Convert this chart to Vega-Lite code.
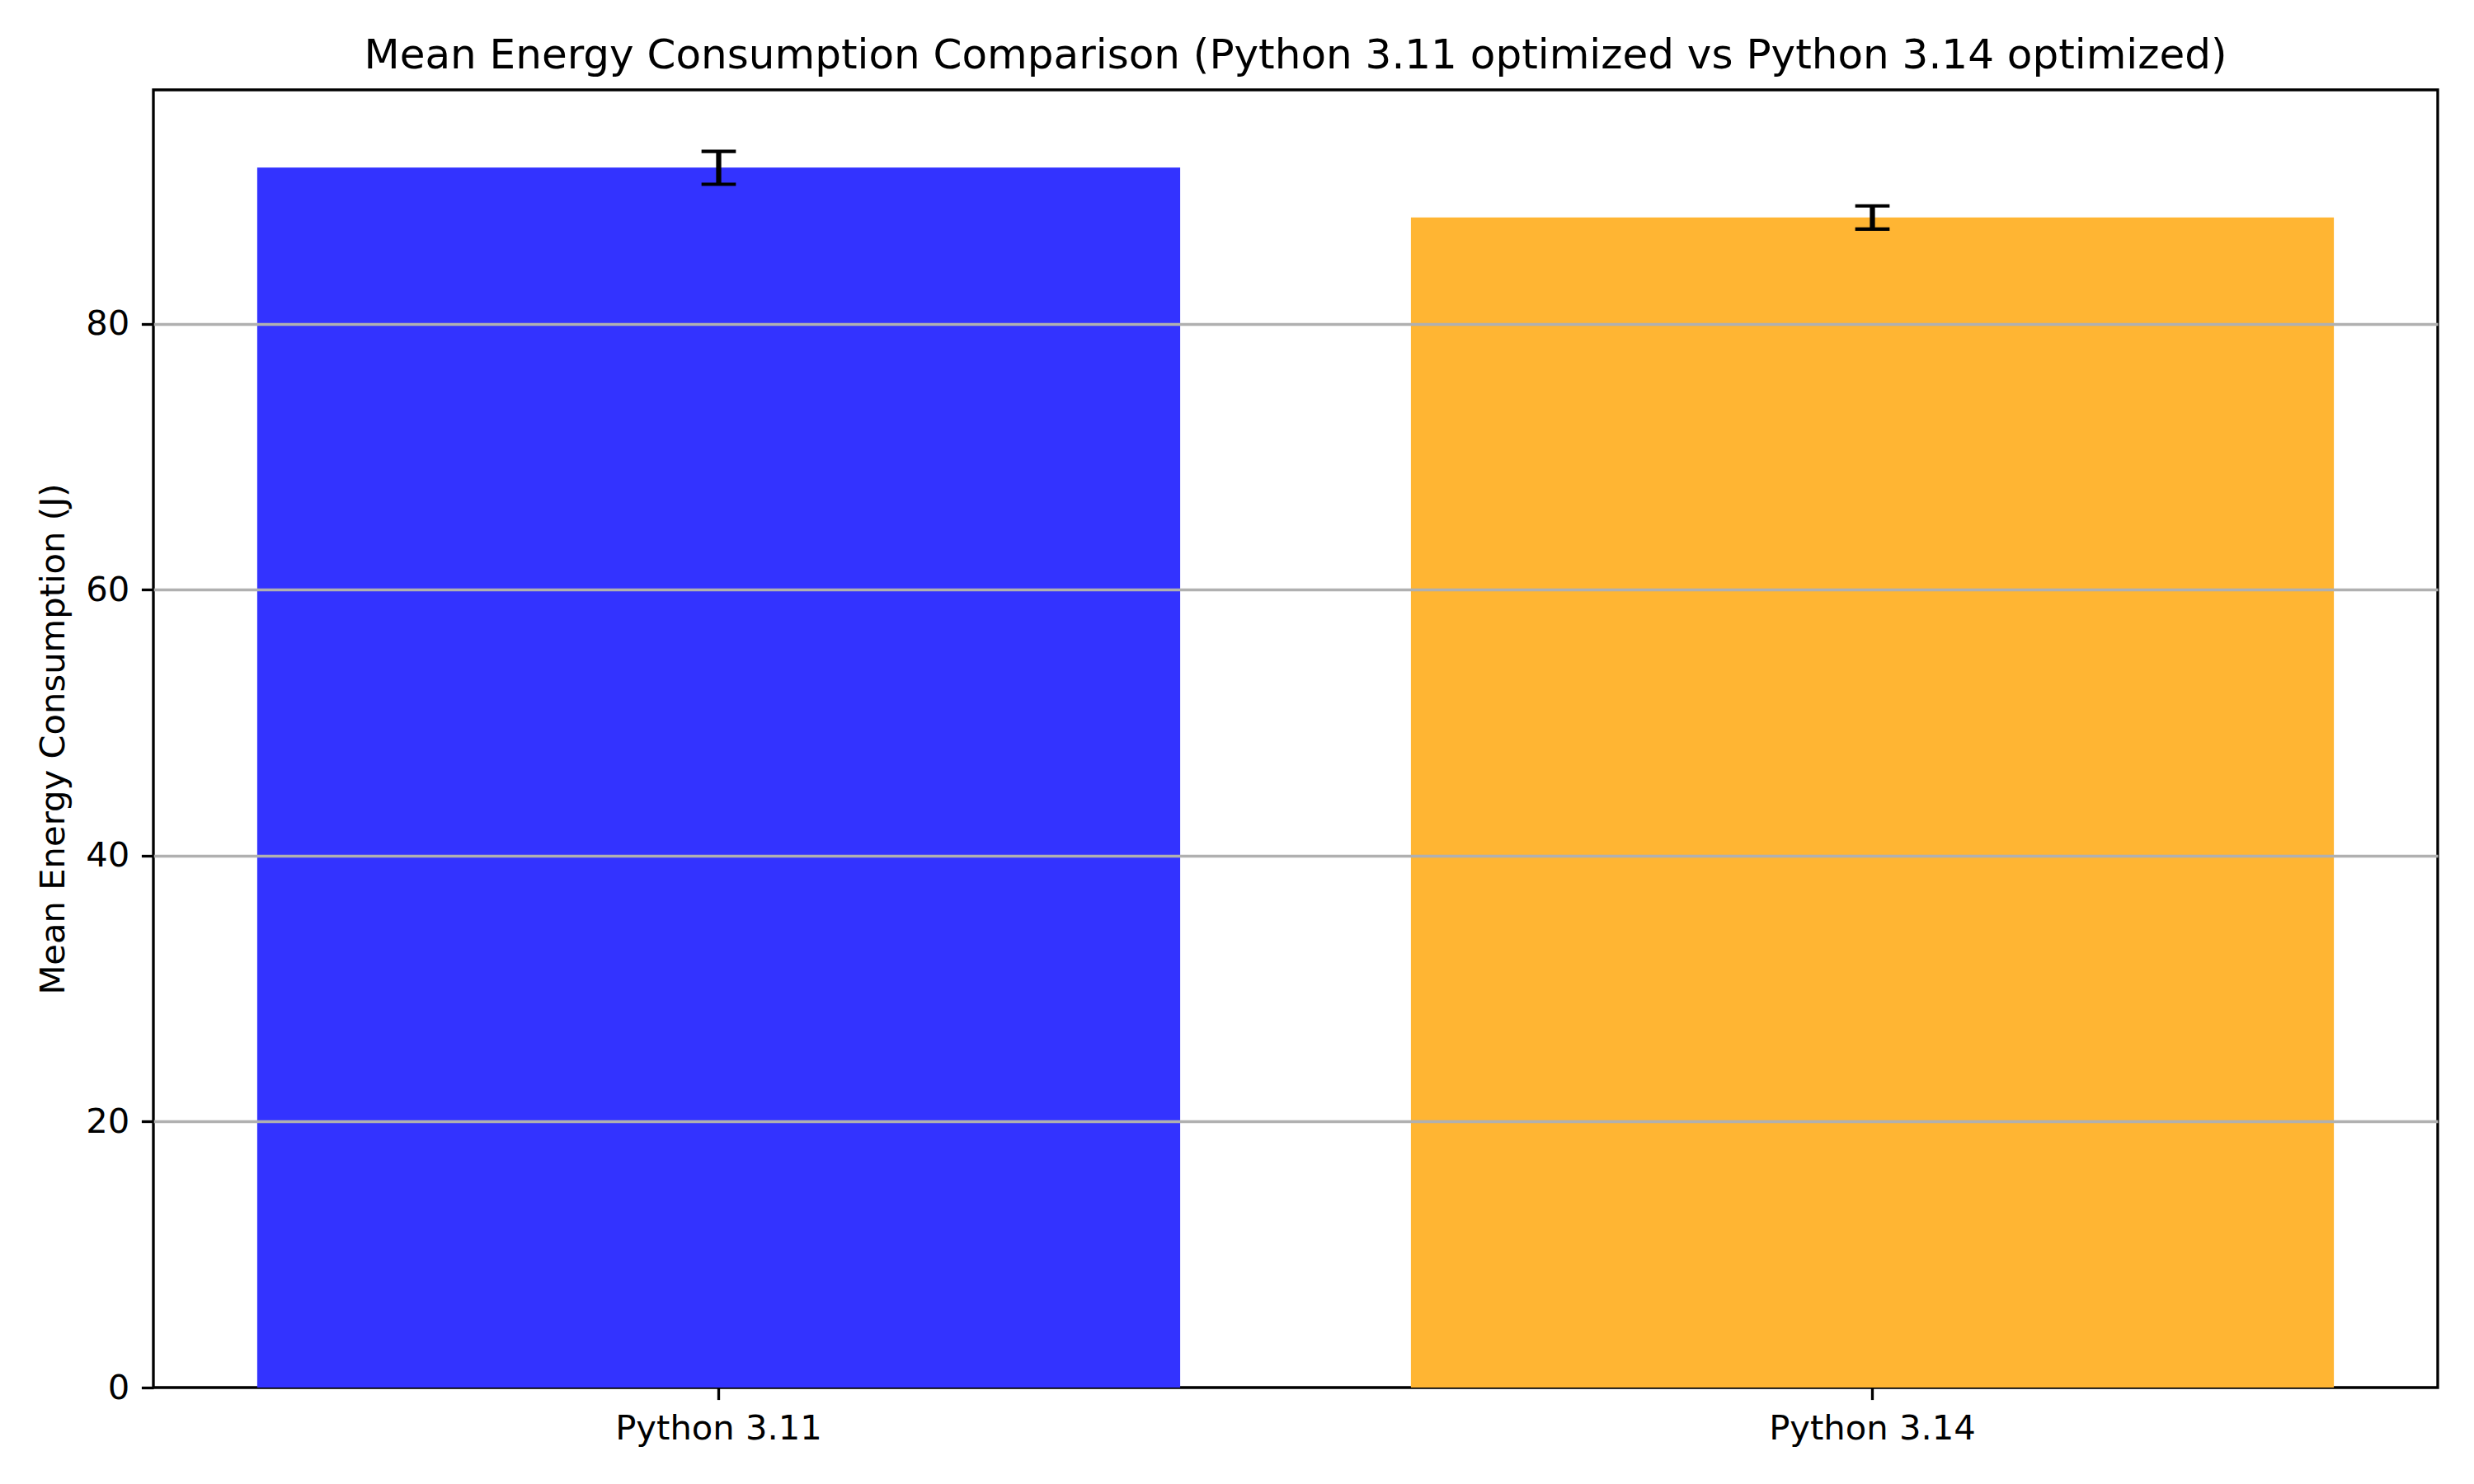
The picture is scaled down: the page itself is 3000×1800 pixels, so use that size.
{
  "$schema": "https://vega.github.io/schema/vega-lite/v6.json",
  "width": 2770,
  "height": 1574,
  "autosize": {"type": "none"},
  "padding": {"left": 186, "top": 109, "right": 44, "bottom": 117},
  "background": "white",
  "title": {
    "text": "Mean Energy Consumption Comparison (Python 3.11 optimized vs Python 3.14 optimized)",
    "font": "DejaVu Sans",
    "fontSize": 50,
    "fontWeight": "normal",
    "color": "black",
    "anchor": "middle",
    "baseline": "alphabetic",
    "offset": 25,
    "dy": 49
  },
  "config": {
    "font": "DejaVu Sans",
    "view": {"stroke": "black", "strokeWidth": 3.33},
    "axis": {
      "domain": false,
      "labelFont": "DejaVu Sans",
      "labelFontSize": 41.7,
      "labelColor": "black",
      "labelPadding": 14.6,
      "labelLimit": 1000,
      "tickColor": "black",
      "tickWidth": 3.33,
      "tickSize": 14.6,
      "titleFont": "DejaVu Sans",
      "titleFontSize": 41.7,
      "titleFontWeight": "normal",
      "titleColor": "black"
    }
  },
  "data": {
    "values": [
      {"version": "Python 3.11", "mean": 91.75, "lo": 90.5, "hi": 92.97},
      {"version": "Python 3.14", "mean": 88.0, "lo": 87.13, "hi": 88.87}
    ]
  },
  "encoding": {
    "x": {
      "field": "version",
      "type": "nominal",
      "sort": null,
      "scale": {"paddingInner": 0.2, "paddingOuter": 0.09},
      "axis": {"title": null, "labelAngle": 0, "grid": false}
    }
  },
  "layer": [
    {
      "mark": {"type": "bar"},
      "encoding": {
        "y": {
          "field": "mean",
          "type": "quantitative",
          "scale": {"domain": [0, 97.6], "nice": false},
          "axis": {
            "title": "Mean Energy Consumption (J)",
            "values": [0, 20, 40, 60, 80],
            "grid": true,
            "gridColor": "#b0b0b0",
            "gridWidth": 3.33,
            "gridOpacity": {"condition": {"test": "datum.value === 0", "value": 0}, "value": 1},
            "zindex": 1,
            "titlePadding": 17
          }
        },
        "color": {
          "field": "version",
          "type": "nominal",
          "scale": {"domain": ["Python 3.11", "Python 3.14"], "range": ["#3333ff", "#ffb533"]},
          "legend": null
        }
      }
    },
    {
      "mark": {"type": "rule", "color": "black", "strokeWidth": 6.25},
      "encoding": {
        "y": {"field": "lo", "type": "quantitative"},
        "y2": {"field": "hi"}
      }
    },
    {
      "mark": {"type": "tick", "color": "black", "orient": "horizontal", "size": 41.7, "thickness": 4.17, "opacity": 1},
      "encoding": {
        "y": {"field": "lo", "type": "quantitative"}
      }
    },
    {
      "mark": {"type": "tick", "color": "black", "orient": "horizontal", "size": 41.7, "thickness": 4.17, "opacity": 1},
      "encoding": {
        "y": {"field": "hi", "type": "quantitative"}
      }
    }
  ]
}
